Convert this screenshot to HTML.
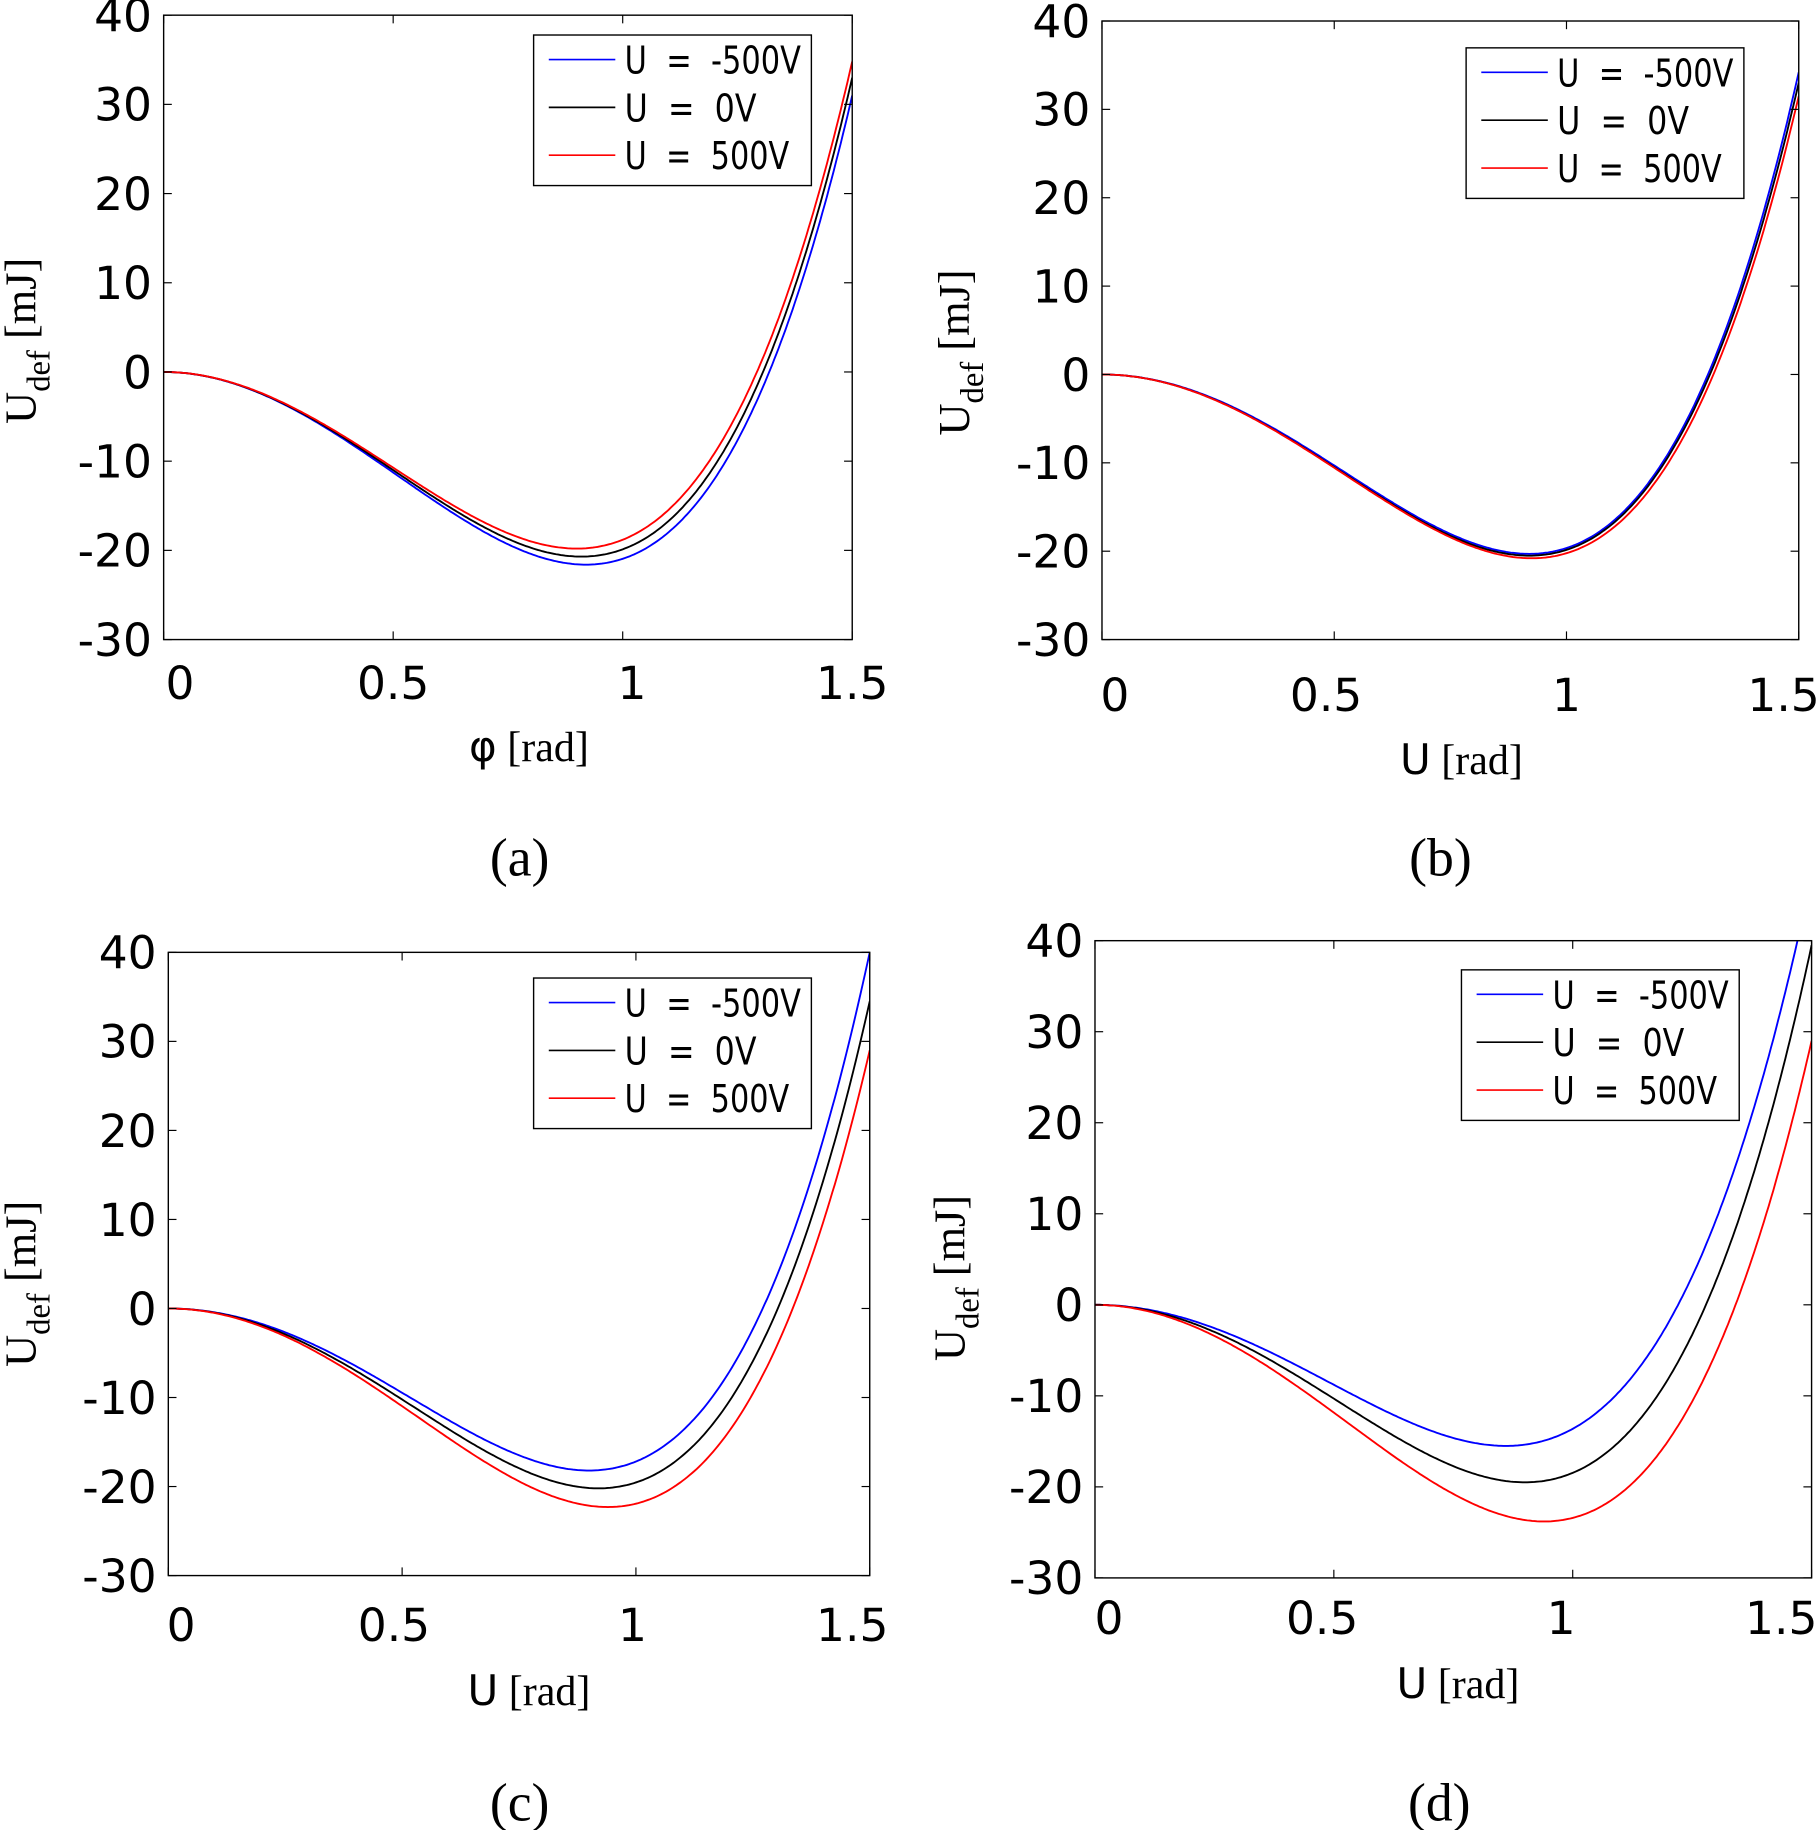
<!DOCTYPE html>
<html><head><meta charset="utf-8"><style>
html,body{margin:0;padding:0;background:#fff;}
svg{display:block;}
.t{font-family:"DejaVu Sans","Liberation Sans",sans-serif;font-size:39px;fill:#000;}
.s{font-family:"Liberation Serif",serif;fill:#000;}
.lg{font-family:"DejaVu Sans","Liberation Sans",sans-serif;font-size:33px;fill:#000;}
</style></head><body>
<svg id="sv" width="1820" height="1830" viewBox="0 0 1559 1568" xmlns="http://www.w3.org/2000/svg"></svg>
<script>
const sv=document.getElementById('sv');
let out='';
function solve(m,v,e){
 const A=[[2*m,3*m*m,4*m*m*m],[m*m,m*m*m,m*m*m*m],[2.25,3.375,5.0625]],B=[0,v,e];
 const det=M=>M[0][0]*(M[1][1]*M[2][2]-M[1][2]*M[2][1])-M[0][1]*(M[1][0]*M[2][2]-M[1][2]*M[2][0])+M[0][2]*(M[1][0]*M[2][1]-M[1][1]*M[2][0]);
 const D=det(A);const r=[];
 for(let k=0;k<3;k++){const M=A.map((row,i)=>row.map((x,j)=>j==k?B[i]:x));r.push(det(M)/D);}
 return r;
}
function panel(p){
 const {x0,x1,y40,ym30,lab,cap,capx,capy,xl,xly,yl,yly,leg,curves,xlabY,off}=p;
 const X=v=>x0+(x1-x0)*v/1.5, Y=v=>y40+(ym30-y40)*(40-v)/70;
 out+=`<defs><clipPath id="c${cap}"><rect x="${x0}" y="${y40}" width="${x1-x0}" height="${ym30-y40}"/></clipPath></defs>`;
 for(const c of curves){
  const [a,b,cc]=solve(c[1],c[2],c[3]);let d='';
  for(let i=0;i<=300;i++){const x=1.5*i/300;const f=a*x*x+b*x*x*x+cc*x*x*x*x;d+=(i?'L':'M')+X(x).toFixed(1)+' '+Y(f).toFixed(1);}
  out+=`<path d="${d}" fill="none" stroke="${c[0]}" stroke-width="1.6" clip-path="url(#c${cap})"/>`;
 }
 out+=`<rect x="${x0}" y="${y40}" width="${x1-x0}" height="${ym30-y40}" fill="none" stroke="#000" stroke-width="1.2"/>`;
 for(let v=-30;v<=40;v+=10){const y=Y(v);
  out+=`<line x1="${x0}" y1="${y}" x2="${x0+7}" y2="${y}" stroke="#000"/><line x1="${x1}" y1="${y}" x2="${x1-7}" y2="${y}" stroke="#000"/>`;
  out+=`<text class="t" x="${x0-10}" y="${y+14}" text-anchor="end">${v}</text>`;}
 [[0,'0'],[0.5,'0.5'],[1,'1'],[1.5,'1.5']].forEach(([v,s],i)=>{const x=X(v);
  out+=`<line x1="${x}" y1="${ym30}" x2="${x}" y2="${ym30-7}" stroke="#000"/><line x1="${x}" y1="${y40}" x2="${x}" y2="${y40+7}" stroke="#000"/>`;
  out+=`<text class="t" x="${x+off[i]}" y="${xlabY}" text-anchor="middle">${s}</text>`;});
 out+=`<text class="s" x="${xl}" y="${xly}" font-size="36" text-anchor="middle"><tspan font-family="DejaVu Sans,sans-serif" font-size="36">${lab}</tspan> [rad]</text>`;
 out+=`<text class="s" transform="translate(${yl},${yly}) rotate(-90)" font-size="38" text-anchor="middle">U<tspan font-size="28" dy="12">def</tspan><tspan dy="-12"> [mJ]</tspan></text>`;
 out+=`<text class="s" x="${capx}" y="${capy}" font-size="46" text-anchor="middle">(${cap})</text>`;
 const [lx,ly]=leg;
 out+=`<rect x="${lx}" y="${ly}" width="238" height="129" fill="#fff" stroke="#000" stroke-width="1.2"/>`;
 [['blue','U  =  -500V',151],['#000','U  =  0V',113],['red','U  =  500V',141]].forEach(([c,s,w],i)=>{const y=ly+21+i*41;
  out+=`<line x1="${lx+13}" y1="${y}" x2="${lx+70}" y2="${y}" stroke="${c}" stroke-width="1.4"/><text class="lg" x="${lx+78}" y="${y+12}" textLength="${w}" lengthAdjust="spacingAndGlyphs" xml:space="preserve">${s}</text>`;});
}
panel({x0:140,x1:730,y40:13,ym30:548,lab:'φ',cap:'a',capx:445,capy:750,xl:453,xly:652,yl:30,yly:292,xlabY:599,leg:[457,30],off:[14,0,8,0],
 curves:[['blue',0.92,-21.6,31],['#000',0.91,-20.7,33],['red',0.9,-19.8,34.8]]});
panel({x0:944,x1:1541,y40:18,ym30:548,lab:'U',cap:'b',capx:1234,capy:750,xl:1252,xly:663,yl:830,yly:302,xlabY:609,leg:[1256,41],off:[11,-7,0,-13],
 curves:[['blue',0.92,-20.3,34.2],['#000',0.92,-20.5,33],['red',0.925,-20.8,31.5]]});
panel({x0:144,x1:745,y40:816,ym30:1350,lab:'U',cap:'c',capx:445,capy:1560,xl:453,xly:1461,yl:30,yly:1100,xlabY:1406,leg:[457,838],off:[11,-7,-3,-15],
 curves:[['blue',0.9,-18.2,40],['#000',0.92,-20.2,34.5],['red',0.94,-22.3,29]]});
panel({x0:938,x1:1552,y40:806,ym30:1352,lab:'U',cap:'d',capx:1233,capy:1560,xl:1249,xly:1455,yl:826,yly:1095,xlabY:1400,leg:[1252,831],off:[12,-10,-10,-26],
 curves:[['blue',0.86,-15.5,47],['#000',0.9,-19.5,39.5],['red',0.94,-23.8,29]]});
sv.innerHTML=out;
</script>
</body></html>
